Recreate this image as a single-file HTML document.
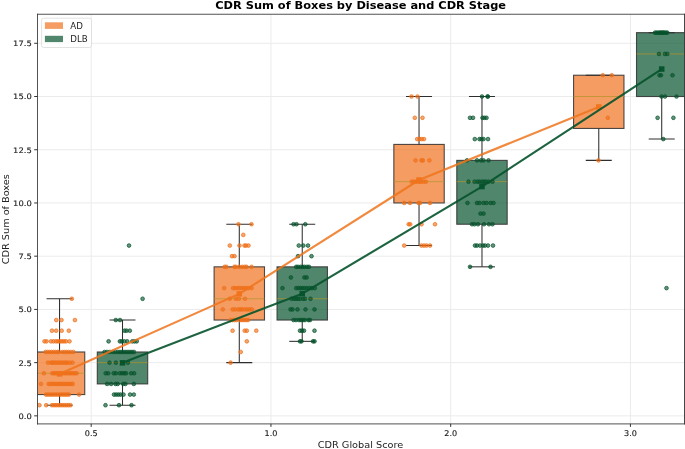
<!DOCTYPE html>
<html><head><meta charset="utf-8"><title>CDR Sum of Boxes by Disease and CDR Stage</title>
<style>html,body{margin:0;padding:0;background:#fff;width:685px;height:449px;overflow:hidden}svg{display:block}</style>
</head><body>
<svg width="685" height="449" viewBox="0 0 685 449" font-family="DejaVu Sans, Liberation Sans, sans-serif"><rect x="0" y="0" width="685" height="449" fill="#ffffff"/>
<defs><clipPath id="ax"><rect x="37.50" y="14.25" width="647.10" height="409.65"/></clipPath></defs>
<g stroke="#ebebeb" stroke-width="1.0" clip-path="url(#ax)"><line x1="37.5" x2="684.6" y1="415.85" y2="415.85"/><line x1="37.5" x2="684.6" y1="362.63" y2="362.63"/><line x1="37.5" x2="684.6" y1="309.41" y2="309.41"/><line x1="37.5" x2="684.6" y1="256.18" y2="256.18"/><line x1="37.5" x2="684.6" y1="202.96" y2="202.96"/><line x1="37.5" x2="684.6" y1="149.74" y2="149.74"/><line x1="37.5" x2="684.6" y1="96.51" y2="96.51"/><line x1="37.5" x2="684.6" y1="43.29" y2="43.29"/><line x1="91.20" x2="91.20" y1="14.25" y2="423.9"/><line x1="270.94" x2="270.94" y1="14.25" y2="423.9"/><line x1="450.68" x2="450.68" y1="14.25" y2="423.9"/><line x1="630.42" x2="630.42" y1="14.25" y2="423.9"/></g>
<g clip-path="url(#ax)"><rect x="34.35" y="351.98" width="50.4" height="42.58" fill="#f17220" fill-opacity="0.7" stroke="#2e2e2e" stroke-opacity="0.85" stroke-width="1.1"/><g stroke="#2e2e2e" stroke-width="1.05" opacity="1.0"><line x1="59.55" x2="59.55" y1="394.56" y2="405.21"/><line x1="59.55" x2="59.55" y1="351.98" y2="298.76"/><line x1="46.55" x2="72.55" y1="405.21" y2="405.21"/><line x1="46.55" x2="72.55" y1="298.76" y2="298.76"/></g><line x1="34.35" x2="84.75" y1="373.27" y2="373.27" stroke="#b4952c" stroke-opacity="0.72" stroke-width="1.0"/><rect x="97.30" y="351.98" width="50.4" height="31.93" fill="#05532c" fill-opacity="0.7" stroke="#2e2e2e" stroke-opacity="0.85" stroke-width="1.1"/><g stroke="#2e2e2e" stroke-width="1.05" opacity="1.0"><line x1="122.50" x2="122.50" y1="383.92" y2="405.21"/><line x1="122.50" x2="122.50" y1="351.98" y2="320.05"/><line x1="109.50" x2="135.50" y1="405.21" y2="405.21"/><line x1="109.50" x2="135.50" y1="320.05" y2="320.05"/></g><line x1="97.30" x2="147.70" y1="362.63" y2="362.63" stroke="#b4952c" stroke-opacity="0.72" stroke-width="1.0"/><rect x="214.09" y="266.83" width="50.4" height="53.22" fill="#f17220" fill-opacity="0.7" stroke="#2e2e2e" stroke-opacity="0.85" stroke-width="1.1"/><g stroke="#2e2e2e" stroke-width="1.05" opacity="1.0"><line x1="239.29" x2="239.29" y1="320.05" y2="362.63"/><line x1="239.29" x2="239.29" y1="266.83" y2="224.25"/><line x1="226.29" x2="252.29" y1="362.63" y2="362.63"/><line x1="226.29" x2="252.29" y1="224.25" y2="224.25"/></g><line x1="214.09" x2="264.49" y1="298.76" y2="298.76" stroke="#b4952c" stroke-opacity="0.72" stroke-width="1.0"/><rect x="277.04" y="266.83" width="50.4" height="53.22" fill="#05532c" fill-opacity="0.7" stroke="#2e2e2e" stroke-opacity="0.85" stroke-width="1.1"/><g stroke="#2e2e2e" stroke-width="1.05" opacity="1.0"><line x1="302.24" x2="302.24" y1="320.05" y2="341.34"/><line x1="302.24" x2="302.24" y1="266.83" y2="224.25"/><line x1="289.24" x2="315.24" y1="341.34" y2="341.34"/><line x1="289.24" x2="315.24" y1="224.25" y2="224.25"/></g><line x1="277.04" x2="327.44" y1="298.76" y2="298.76" stroke="#b4952c" stroke-opacity="0.72" stroke-width="1.0"/><rect x="393.83" y="144.42" width="50.4" height="58.54" fill="#f17220" fill-opacity="0.7" stroke="#2e2e2e" stroke-opacity="0.85" stroke-width="1.1"/><g stroke="#2e2e2e" stroke-width="1.05" opacity="1.0"><line x1="419.03" x2="419.03" y1="202.96" y2="245.54"/><line x1="419.03" x2="419.03" y1="144.42" y2="96.51"/><line x1="406.03" x2="432.03" y1="245.54" y2="245.54"/><line x1="406.03" x2="432.03" y1="96.51" y2="96.51"/></g><line x1="393.83" x2="444.23" y1="181.67" y2="181.67" stroke="#b4952c" stroke-opacity="0.72" stroke-width="1.0"/><rect x="456.78" y="160.38" width="50.4" height="63.87" fill="#05532c" fill-opacity="0.7" stroke="#2e2e2e" stroke-opacity="0.85" stroke-width="1.1"/><g stroke="#2e2e2e" stroke-width="1.05" opacity="1.0"><line x1="481.98" x2="481.98" y1="224.25" y2="266.83"/><line x1="481.98" x2="481.98" y1="160.38" y2="96.51"/><line x1="468.98" x2="494.98" y1="266.83" y2="266.83"/><line x1="468.98" x2="494.98" y1="96.51" y2="96.51"/></g><line x1="456.78" x2="507.18" y1="181.67" y2="181.67" stroke="#b4952c" stroke-opacity="0.72" stroke-width="1.0"/><rect x="573.57" y="75.23" width="50.4" height="53.22" fill="#f17220" fill-opacity="0.7" stroke="#2e2e2e" stroke-opacity="0.85" stroke-width="1.1"/><g stroke="#2e2e2e" stroke-width="1.05" opacity="1.0"><line x1="598.77" x2="598.77" y1="128.45" y2="160.38"/><line x1="598.77" x2="598.77" y1="75.23" y2="75.23"/><line x1="585.77" x2="611.77" y1="160.38" y2="160.38"/><line x1="585.77" x2="611.77" y1="75.23" y2="75.23"/></g><line x1="573.57" x2="623.97" y1="96.51" y2="96.51" stroke="#b4952c" stroke-opacity="0.72" stroke-width="1.0"/><rect x="636.52" y="32.65" width="50.4" height="63.87" fill="#05532c" fill-opacity="0.7" stroke="#2e2e2e" stroke-opacity="0.85" stroke-width="1.1"/><g stroke="#2e2e2e" stroke-width="1.05" opacity="1.0"><line x1="661.72" x2="661.72" y1="96.51" y2="139.09"/><line x1="661.72" x2="661.72" y1="32.65" y2="32.65"/><line x1="648.72" x2="674.72" y1="139.09" y2="139.09"/><line x1="648.72" x2="674.72" y1="32.65" y2="32.65"/></g><line x1="636.52" x2="686.92" y1="53.94" y2="53.94" stroke="#b4952c" stroke-opacity="0.72" stroke-width="1.0"/><g fill="#ef7019" fill-opacity="0.62" stroke="#ef7019" stroke-opacity="0.85" stroke-width="0.85"><circle cx="71.8" cy="298.76" r="1.85"/><circle cx="56.3" cy="320.05" r="1.85"/><circle cx="61.5" cy="320.05" r="1.85"/><circle cx="74.9" cy="320.05" r="1.85"/><circle cx="52.0" cy="330.69" r="1.85"/><circle cx="56.2" cy="330.69" r="1.85"/><circle cx="61.7" cy="330.69" r="1.85"/><circle cx="68.8" cy="330.69" r="1.85"/><circle cx="44.5" cy="341.34" r="1.85"/><circle cx="46.5" cy="341.34" r="1.85"/><circle cx="51.0" cy="341.34" r="1.85"/><circle cx="53.5" cy="341.34" r="1.85"/><circle cx="56.0" cy="341.34" r="1.85"/><circle cx="58.0" cy="341.34" r="1.85"/><circle cx="60.0" cy="341.34" r="1.85"/><circle cx="62.0" cy="341.34" r="1.85"/><circle cx="64.0" cy="341.34" r="1.85"/><circle cx="66.0" cy="341.34" r="1.85"/><circle cx="69.5" cy="341.34" r="1.85"/><circle cx="45.5" cy="351.98" r="1.85"/><circle cx="47.5" cy="351.98" r="1.85"/><circle cx="49.5" cy="351.98" r="1.85"/><circle cx="51.5" cy="351.98" r="1.85"/><circle cx="53.5" cy="351.98" r="1.85"/><circle cx="55.5" cy="351.98" r="1.85"/><circle cx="57.5" cy="351.98" r="1.85"/><circle cx="59.0" cy="351.98" r="1.85"/><circle cx="62.5" cy="351.98" r="1.85"/><circle cx="64.5" cy="351.98" r="1.85"/><circle cx="66.5" cy="351.98" r="1.85"/><circle cx="68.5" cy="351.98" r="1.85"/><circle cx="71.0" cy="351.98" r="1.85"/><circle cx="73.5" cy="351.98" r="1.85"/><circle cx="48.0" cy="362.63" r="1.85"/><circle cx="51.0" cy="362.63" r="1.85"/><circle cx="52.5" cy="362.63" r="1.85"/><circle cx="54.0" cy="362.63" r="1.85"/><circle cx="56.0" cy="362.63" r="1.85"/><circle cx="58.0" cy="362.63" r="1.85"/><circle cx="60.0" cy="362.63" r="1.85"/><circle cx="62.0" cy="362.63" r="1.85"/><circle cx="64.0" cy="362.63" r="1.85"/><circle cx="66.0" cy="362.63" r="1.85"/><circle cx="67.5" cy="362.63" r="1.85"/><circle cx="70.0" cy="362.63" r="1.85"/><circle cx="72.5" cy="362.63" r="1.85"/><circle cx="43.9" cy="373.27" r="1.85"/><circle cx="52.2" cy="373.27" r="1.85"/><circle cx="54.1" cy="373.27" r="1.85"/><circle cx="56.0" cy="373.27" r="1.85"/><circle cx="57.9" cy="373.27" r="1.85"/><circle cx="59.7" cy="373.27" r="1.85"/><circle cx="61.6" cy="373.27" r="1.85"/><circle cx="63.5" cy="373.27" r="1.85"/><circle cx="65.4" cy="373.27" r="1.85"/><circle cx="67.3" cy="373.27" r="1.85"/><circle cx="69.2" cy="373.27" r="1.85"/><circle cx="71.0" cy="373.27" r="1.85"/><circle cx="72.9" cy="373.27" r="1.85"/><circle cx="74.8" cy="373.27" r="1.85"/><circle cx="76.7" cy="373.27" r="1.85"/><circle cx="41.0" cy="383.92" r="1.85"/><circle cx="48.6" cy="383.92" r="1.85"/><circle cx="50.5" cy="383.92" r="1.85"/><circle cx="52.3" cy="383.92" r="1.85"/><circle cx="54.2" cy="383.92" r="1.85"/><circle cx="56.0" cy="383.92" r="1.85"/><circle cx="57.9" cy="383.92" r="1.85"/><circle cx="59.7" cy="383.92" r="1.85"/><circle cx="61.6" cy="383.92" r="1.85"/><circle cx="63.4" cy="383.92" r="1.85"/><circle cx="65.3" cy="383.92" r="1.85"/><circle cx="67.1" cy="383.92" r="1.85"/><circle cx="69.0" cy="383.92" r="1.85"/><circle cx="70.8" cy="383.92" r="1.85"/><circle cx="72.7" cy="383.92" r="1.85"/><circle cx="46.0" cy="394.56" r="1.85"/><circle cx="47.9" cy="394.56" r="1.85"/><circle cx="49.8" cy="394.56" r="1.85"/><circle cx="51.7" cy="394.56" r="1.85"/><circle cx="53.6" cy="394.56" r="1.85"/><circle cx="55.5" cy="394.56" r="1.85"/><circle cx="57.5" cy="394.56" r="1.85"/><circle cx="59.4" cy="394.56" r="1.85"/><circle cx="61.3" cy="394.56" r="1.85"/><circle cx="63.2" cy="394.56" r="1.85"/><circle cx="65.1" cy="394.56" r="1.85"/><circle cx="67.0" cy="394.56" r="1.85"/><circle cx="68.9" cy="394.56" r="1.85"/><circle cx="79.1" cy="394.56" r="1.85"/><circle cx="39.4" cy="405.21" r="1.85"/><circle cx="46.2" cy="405.21" r="1.85"/><circle cx="52.0" cy="405.21" r="1.85"/><circle cx="54.1" cy="405.21" r="1.85"/><circle cx="56.1" cy="405.21" r="1.85"/><circle cx="58.2" cy="405.21" r="1.85"/><circle cx="60.2" cy="405.21" r="1.85"/><circle cx="62.3" cy="405.21" r="1.85"/><circle cx="64.3" cy="405.21" r="1.85"/><circle cx="66.4" cy="405.21" r="1.85"/><circle cx="68.4" cy="405.21" r="1.85"/><circle cx="70.5" cy="405.21" r="1.85"/></g><g fill="#05532c" fill-opacity="0.62" stroke="#05532c" stroke-opacity="0.85" stroke-width="0.85"><circle cx="129.0" cy="245.54" r="1.85"/><circle cx="142.6" cy="298.76" r="1.85"/><circle cx="115.8" cy="320.05" r="1.85"/><circle cx="120.0" cy="320.05" r="1.85"/><circle cx="124.5" cy="330.69" r="1.85"/><circle cx="126.5" cy="330.69" r="1.85"/><circle cx="129.8" cy="330.69" r="1.85"/><circle cx="108.6" cy="341.34" r="1.85"/><circle cx="119.9" cy="341.34" r="1.85"/><circle cx="121.7" cy="341.34" r="1.85"/><circle cx="124.3" cy="341.34" r="1.85"/><circle cx="127.2" cy="341.34" r="1.85"/><circle cx="132.3" cy="341.34" r="1.85"/><circle cx="134.5" cy="341.34" r="1.85"/><circle cx="136.7" cy="341.34" r="1.85"/><circle cx="104.5" cy="351.98" r="1.85"/><circle cx="107.0" cy="351.98" r="1.85"/><circle cx="110.0" cy="351.98" r="1.85"/><circle cx="113.0" cy="351.98" r="1.85"/><circle cx="115.5" cy="351.98" r="1.85"/><circle cx="118.0" cy="351.98" r="1.85"/><circle cx="120.0" cy="351.98" r="1.85"/><circle cx="122.0" cy="351.98" r="1.85"/><circle cx="124.0" cy="351.98" r="1.85"/><circle cx="126.0" cy="351.98" r="1.85"/><circle cx="128.0" cy="351.98" r="1.85"/><circle cx="130.0" cy="351.98" r="1.85"/><circle cx="132.0" cy="351.98" r="1.85"/><circle cx="134.0" cy="351.98" r="1.85"/><circle cx="109.5" cy="362.63" r="1.85"/><circle cx="115.9" cy="362.63" r="1.85"/><circle cx="127.9" cy="362.63" r="1.85"/><circle cx="105.7" cy="373.27" r="1.85"/><circle cx="108.2" cy="373.27" r="1.85"/><circle cx="113.7" cy="373.27" r="1.85"/><circle cx="115.9" cy="373.27" r="1.85"/><circle cx="119.9" cy="373.27" r="1.85"/><circle cx="122.1" cy="373.27" r="1.85"/><circle cx="124.3" cy="373.27" r="1.85"/><circle cx="126.1" cy="373.27" r="1.85"/><circle cx="131.2" cy="373.27" r="1.85"/><circle cx="134.1" cy="373.27" r="1.85"/><circle cx="107.1" cy="383.92" r="1.85"/><circle cx="111.1" cy="383.92" r="1.85"/><circle cx="115.5" cy="383.92" r="1.85"/><circle cx="117.7" cy="383.92" r="1.85"/><circle cx="123.2" cy="383.92" r="1.85"/><circle cx="125.4" cy="383.92" r="1.85"/><circle cx="133.8" cy="383.92" r="1.85"/><circle cx="114.0" cy="394.56" r="1.85"/><circle cx="116.2" cy="394.56" r="1.85"/><circle cx="118.4" cy="394.56" r="1.85"/><circle cx="120.6" cy="394.56" r="1.85"/><circle cx="123.5" cy="394.56" r="1.85"/><circle cx="130.1" cy="394.56" r="1.85"/><circle cx="133.8" cy="394.56" r="1.85"/><circle cx="105.5" cy="405.21" r="1.85"/><circle cx="119.0" cy="405.21" r="1.85"/><circle cx="131.5" cy="405.21" r="1.85"/></g><g fill="#ef7019" fill-opacity="0.62" stroke="#ef7019" stroke-opacity="0.85" stroke-width="0.85"><circle cx="238.5" cy="224.25" r="1.85"/><circle cx="251.5" cy="224.25" r="1.85"/><circle cx="243.3" cy="234.89" r="1.85"/><circle cx="229.8" cy="245.54" r="1.85"/><circle cx="239.5" cy="245.54" r="1.85"/><circle cx="244.5" cy="245.54" r="1.85"/><circle cx="246.0" cy="245.54" r="1.85"/><circle cx="248.5" cy="245.54" r="1.85"/><circle cx="232.0" cy="256.18" r="1.85"/><circle cx="234.5" cy="256.18" r="1.85"/><circle cx="224.6" cy="266.83" r="1.85"/><circle cx="226.4" cy="266.83" r="1.85"/><circle cx="234.4" cy="266.83" r="1.85"/><circle cx="235.9" cy="266.83" r="1.85"/><circle cx="239.2" cy="266.83" r="1.85"/><circle cx="242.1" cy="266.83" r="1.85"/><circle cx="244.7" cy="266.83" r="1.85"/><circle cx="246.5" cy="266.83" r="1.85"/><circle cx="251.6" cy="266.83" r="1.85"/><circle cx="224.2" cy="288.12" r="1.85"/><circle cx="233.0" cy="288.12" r="1.85"/><circle cx="235.2" cy="288.12" r="1.85"/><circle cx="237.4" cy="288.12" r="1.85"/><circle cx="239.5" cy="288.12" r="1.85"/><circle cx="241.7" cy="288.12" r="1.85"/><circle cx="243.9" cy="288.12" r="1.85"/><circle cx="246.1" cy="288.12" r="1.85"/><circle cx="248.3" cy="288.12" r="1.85"/><circle cx="251.6" cy="288.12" r="1.85"/><circle cx="229.7" cy="298.76" r="1.85"/><circle cx="235.9" cy="298.76" r="1.85"/><circle cx="238.8" cy="298.76" r="1.85"/><circle cx="245.0" cy="298.76" r="1.85"/><circle cx="222.8" cy="309.41" r="1.85"/><circle cx="232.6" cy="309.41" r="1.85"/><circle cx="235.2" cy="309.41" r="1.85"/><circle cx="238.1" cy="309.41" r="1.85"/><circle cx="240.3" cy="309.41" r="1.85"/><circle cx="242.1" cy="309.41" r="1.85"/><circle cx="244.7" cy="309.41" r="1.85"/><circle cx="247.2" cy="309.41" r="1.85"/><circle cx="249.5" cy="309.41" r="1.85"/><circle cx="251.8" cy="309.41" r="1.85"/><circle cx="230.6" cy="320.05" r="1.85"/><circle cx="232.5" cy="320.05" r="1.85"/><circle cx="234.5" cy="320.05" r="1.85"/><circle cx="236.5" cy="320.05" r="1.85"/><circle cx="240.0" cy="320.05" r="1.85"/><circle cx="242.0" cy="320.05" r="1.85"/><circle cx="244.0" cy="320.05" r="1.85"/><circle cx="246.0" cy="320.05" r="1.85"/><circle cx="248.0" cy="320.05" r="1.85"/><circle cx="232.6" cy="330.69" r="1.85"/><circle cx="244.7" cy="330.69" r="1.85"/><circle cx="246.8" cy="330.69" r="1.85"/><circle cx="256.3" cy="330.69" r="1.85"/><circle cx="246.8" cy="341.34" r="1.85"/><circle cx="240.7" cy="351.98" r="1.85"/><circle cx="230.6" cy="362.63" r="1.85"/></g><g fill="#05532c" fill-opacity="0.62" stroke="#05532c" stroke-opacity="0.85" stroke-width="0.85"><circle cx="293.5" cy="224.25" r="1.85"/><circle cx="296.5" cy="224.25" r="1.85"/><circle cx="305.3" cy="224.25" r="1.85"/><circle cx="298.8" cy="245.54" r="1.85"/><circle cx="303.3" cy="245.54" r="1.85"/><circle cx="308.0" cy="245.54" r="1.85"/><circle cx="298.0" cy="256.18" r="1.85"/><circle cx="311.5" cy="256.18" r="1.85"/><circle cx="296.2" cy="266.83" r="1.85"/><circle cx="298.0" cy="266.83" r="1.85"/><circle cx="300.5" cy="266.83" r="1.85"/><circle cx="302.5" cy="266.83" r="1.85"/><circle cx="304.5" cy="266.83" r="1.85"/><circle cx="307.0" cy="266.83" r="1.85"/><circle cx="309.0" cy="266.83" r="1.85"/><circle cx="290.9" cy="277.47" r="1.85"/><circle cx="304.4" cy="277.47" r="1.85"/><circle cx="306.6" cy="277.47" r="1.85"/><circle cx="282.5" cy="288.12" r="1.85"/><circle cx="296.2" cy="288.12" r="1.85"/><circle cx="298.5" cy="288.12" r="1.85"/><circle cx="300.5" cy="288.12" r="1.85"/><circle cx="302.5" cy="288.12" r="1.85"/><circle cx="304.5" cy="288.12" r="1.85"/><circle cx="307.0" cy="288.12" r="1.85"/><circle cx="309.5" cy="288.12" r="1.85"/><circle cx="312.0" cy="288.12" r="1.85"/><circle cx="314.8" cy="288.12" r="1.85"/><circle cx="291.5" cy="298.76" r="1.85"/><circle cx="294.0" cy="298.76" r="1.85"/><circle cx="296.0" cy="298.76" r="1.85"/><circle cx="298.0" cy="298.76" r="1.85"/><circle cx="300.0" cy="298.76" r="1.85"/><circle cx="303.0" cy="298.76" r="1.85"/><circle cx="305.0" cy="298.76" r="1.85"/><circle cx="310.5" cy="298.76" r="1.85"/><circle cx="290.5" cy="309.41" r="1.85"/><circle cx="292.5" cy="309.41" r="1.85"/><circle cx="297.5" cy="309.41" r="1.85"/><circle cx="305.5" cy="309.41" r="1.85"/><circle cx="314.5" cy="309.41" r="1.85"/><circle cx="293.5" cy="320.05" r="1.85"/><circle cx="296.0" cy="320.05" r="1.85"/><circle cx="299.0" cy="320.05" r="1.85"/><circle cx="301.0" cy="320.05" r="1.85"/><circle cx="303.0" cy="320.05" r="1.85"/><circle cx="305.0" cy="320.05" r="1.85"/><circle cx="308.5" cy="320.05" r="1.85"/><circle cx="310.0" cy="320.05" r="1.85"/><circle cx="300.0" cy="330.69" r="1.85"/><circle cx="302.0" cy="330.69" r="1.85"/><circle cx="304.0" cy="330.69" r="1.85"/><circle cx="314.5" cy="330.69" r="1.85"/><circle cx="300.0" cy="341.34" r="1.85"/><circle cx="301.5" cy="341.34" r="1.85"/><circle cx="313.0" cy="341.34" r="1.85"/><circle cx="314.5" cy="341.34" r="1.85"/></g><g fill="#ef7019" fill-opacity="0.62" stroke="#ef7019" stroke-opacity="0.85" stroke-width="0.85"><circle cx="411.5" cy="96.51" r="1.85"/><circle cx="417.5" cy="96.51" r="1.85"/><circle cx="414.8" cy="117.80" r="1.85"/><circle cx="422.5" cy="117.80" r="1.85"/><circle cx="417.2" cy="139.09" r="1.85"/><circle cx="419.5" cy="139.09" r="1.85"/><circle cx="421.7" cy="139.09" r="1.85"/><circle cx="424.0" cy="139.09" r="1.85"/><circle cx="415.5" cy="160.38" r="1.85"/><circle cx="421.4" cy="160.38" r="1.85"/><circle cx="422.8" cy="160.38" r="1.85"/><circle cx="429.4" cy="160.38" r="1.85"/><circle cx="411.7" cy="181.67" r="1.85"/><circle cx="414.0" cy="181.67" r="1.85"/><circle cx="416.5" cy="181.67" r="1.85"/><circle cx="419.0" cy="181.67" r="1.85"/><circle cx="421.0" cy="181.67" r="1.85"/><circle cx="423.5" cy="181.67" r="1.85"/><circle cx="425.9" cy="181.67" r="1.85"/><circle cx="404.2" cy="202.96" r="1.85"/><circle cx="410.0" cy="202.96" r="1.85"/><circle cx="418.5" cy="202.96" r="1.85"/><circle cx="420.0" cy="202.96" r="1.85"/><circle cx="430.0" cy="202.96" r="1.85"/><circle cx="408.7" cy="224.25" r="1.85"/><circle cx="410.2" cy="224.25" r="1.85"/><circle cx="421.5" cy="224.25" r="1.85"/><circle cx="435.0" cy="224.25" r="1.85"/><circle cx="404.2" cy="245.54" r="1.85"/><circle cx="421.5" cy="245.54" r="1.85"/><circle cx="424.0" cy="245.54" r="1.85"/><circle cx="426.5" cy="245.54" r="1.85"/><circle cx="430.0" cy="245.54" r="1.85"/></g><g fill="#05532c" fill-opacity="0.62" stroke="#05532c" stroke-opacity="0.85" stroke-width="0.85"><circle cx="482.0" cy="96.51" r="1.85"/><circle cx="487.5" cy="96.51" r="1.85"/><circle cx="487.9" cy="96.51" r="1.85"/><circle cx="470.0" cy="117.80" r="1.85"/><circle cx="473.0" cy="117.80" r="1.85"/><circle cx="482.5" cy="117.80" r="1.85"/><circle cx="484.5" cy="117.80" r="1.85"/><circle cx="486.5" cy="117.80" r="1.85"/><circle cx="474.8" cy="139.09" r="1.85"/><circle cx="479.5" cy="139.09" r="1.85"/><circle cx="481.5" cy="139.09" r="1.85"/><circle cx="483.5" cy="139.09" r="1.85"/><circle cx="488.0" cy="139.09" r="1.85"/><circle cx="467.0" cy="160.38" r="1.85"/><circle cx="477.0" cy="160.38" r="1.85"/><circle cx="481.0" cy="160.38" r="1.85"/><circle cx="483.5" cy="160.38" r="1.85"/><circle cx="488.5" cy="160.38" r="1.85"/><circle cx="468.5" cy="181.67" r="1.85"/><circle cx="474.5" cy="181.67" r="1.85"/><circle cx="477.5" cy="181.67" r="1.85"/><circle cx="479.5" cy="181.67" r="1.85"/><circle cx="482.0" cy="181.67" r="1.85"/><circle cx="484.0" cy="181.67" r="1.85"/><circle cx="486.0" cy="181.67" r="1.85"/><circle cx="488.5" cy="181.67" r="1.85"/><circle cx="492.5" cy="181.67" r="1.85"/><circle cx="467.5" cy="202.96" r="1.85"/><circle cx="477.0" cy="202.96" r="1.85"/><circle cx="479.5" cy="202.96" r="1.85"/><circle cx="483.5" cy="202.96" r="1.85"/><circle cx="486.5" cy="202.96" r="1.85"/><circle cx="490.5" cy="202.96" r="1.85"/><circle cx="493.5" cy="202.96" r="1.85"/><circle cx="480.5" cy="213.60" r="1.85"/><circle cx="483.5" cy="213.60" r="1.85"/><circle cx="472.0" cy="224.25" r="1.85"/><circle cx="474.5" cy="224.25" r="1.85"/><circle cx="478.0" cy="224.25" r="1.85"/><circle cx="484.0" cy="224.25" r="1.85"/><circle cx="489.0" cy="224.25" r="1.85"/><circle cx="492.5" cy="224.25" r="1.85"/><circle cx="475.0" cy="245.54" r="1.85"/><circle cx="477.0" cy="245.54" r="1.85"/><circle cx="480.0" cy="245.54" r="1.85"/><circle cx="483.0" cy="245.54" r="1.85"/><circle cx="485.0" cy="245.54" r="1.85"/><circle cx="488.0" cy="245.54" r="1.85"/><circle cx="493.0" cy="245.54" r="1.85"/><circle cx="470.0" cy="266.83" r="1.85"/><circle cx="490.5" cy="266.83" r="1.85"/></g><g fill="#ef7019" fill-opacity="0.62" stroke="#ef7019" stroke-opacity="0.85" stroke-width="0.85"><circle cx="602.8" cy="75.23" r="1.85"/><circle cx="611.8" cy="75.23" r="1.85"/><circle cx="607.8" cy="117.80" r="1.85"/><circle cx="598.5" cy="160.38" r="1.85"/></g><g fill="#05532c" fill-opacity="0.62" stroke="#05532c" stroke-opacity="0.85" stroke-width="0.85"><circle cx="655.0" cy="32.65" r="1.85"/><circle cx="656.5" cy="32.65" r="1.85"/><circle cx="658.0" cy="32.65" r="1.85"/><circle cx="659.5" cy="32.65" r="1.85"/><circle cx="660.5" cy="32.65" r="1.85"/><circle cx="661.5" cy="32.65" r="1.85"/><circle cx="662.5" cy="32.65" r="1.85"/><circle cx="663.5" cy="32.65" r="1.85"/><circle cx="664.5" cy="32.65" r="1.85"/><circle cx="666.0" cy="32.65" r="1.85"/><circle cx="667.3" cy="32.65" r="1.85"/><circle cx="659.0" cy="53.94" r="1.85"/><circle cx="664.9" cy="53.94" r="1.85"/><circle cx="667.3" cy="53.94" r="1.85"/><circle cx="659.5" cy="75.23" r="1.85"/><circle cx="661.0" cy="75.23" r="1.85"/><circle cx="672.5" cy="75.23" r="1.85"/><circle cx="661.5" cy="96.51" r="1.85"/><circle cx="665.0" cy="96.51" r="1.85"/><circle cx="676.5" cy="96.51" r="1.85"/><circle cx="657.6" cy="117.80" r="1.85"/><circle cx="673.4" cy="117.80" r="1.85"/><circle cx="663.3" cy="139.09" r="1.85"/><circle cx="666.5" cy="288.12" r="1.85"/></g><polyline points="59.55,373.91 239.29,293.86 419.03,179.97 598.77,106.95" fill="none" stroke="#ef741c" stroke-opacity="0.85" stroke-width="2.15" stroke-linejoin="round"/><rect x="56.80" y="371.16" width="5.5" height="5.5" fill="#ef741c" fill-opacity="0.97"/><rect x="236.54" y="291.11" width="5.5" height="5.5" fill="#ef741c" fill-opacity="0.97"/><rect x="416.28" y="177.22" width="5.5" height="5.5" fill="#ef741c" fill-opacity="0.97"/><rect x="596.02" y="104.20" width="5.5" height="5.5" fill="#ef741c" fill-opacity="0.97"/><polyline points="122.50,362.84 302.24,293.65 481.98,186.57 661.72,69.05" fill="none" stroke="#05532c" stroke-opacity="0.9" stroke-width="2.15" stroke-linejoin="round"/><rect x="119.75" y="360.09" width="5.5" height="5.5" fill="#05532c" fill-opacity="0.97"/><rect x="299.49" y="290.90" width="5.5" height="5.5" fill="#05532c" fill-opacity="0.97"/><rect x="479.23" y="183.82" width="5.5" height="5.5" fill="#05532c" fill-opacity="0.97"/><rect x="658.97" y="66.30" width="5.5" height="5.5" fill="#05532c" fill-opacity="0.97"/></g>
<g stroke="#333333" stroke-linecap="square"><line x1="37.5" x2="37.5" y1="14.25" y2="423.9" stroke-width="0.85"/><line x1="684.6" x2="684.6" y1="14.25" y2="423.9" stroke-width="1.0"/><line x1="37.5" x2="684.6" y1="14.25" y2="14.25" stroke-width="0.85"/><line x1="37.5" x2="684.6" y1="423.9" y2="423.9" stroke-width="0.85"/></g>
<g stroke="#333333" stroke-width="1.0"><line x1="34.2" x2="37.5" y1="415.85" y2="415.85"/><line x1="34.2" x2="37.5" y1="362.63" y2="362.63"/><line x1="34.2" x2="37.5" y1="309.41" y2="309.41"/><line x1="34.2" x2="37.5" y1="256.18" y2="256.18"/><line x1="34.2" x2="37.5" y1="202.96" y2="202.96"/><line x1="34.2" x2="37.5" y1="149.74" y2="149.74"/><line x1="34.2" x2="37.5" y1="96.51" y2="96.51"/><line x1="34.2" x2="37.5" y1="43.29" y2="43.29"/><line x1="91.20" x2="91.20" y1="423.9" y2="426.9"/><line x1="270.94" x2="270.94" y1="423.9" y2="426.9"/><line x1="450.68" x2="450.68" y1="423.9" y2="426.9"/><line x1="630.42" x2="630.42" y1="423.9" y2="426.9"/></g>
<g font-size="8.4" fill="#1a1a1a" stroke="#1a1a1a" stroke-width="0.14"><text transform="translate(31.8,418.75) scale(1,0.9)" text-anchor="end">0.0</text><text transform="translate(31.8,365.53) scale(1,0.9)" text-anchor="end">2.5</text><text transform="translate(31.8,312.31) scale(1,0.9)" text-anchor="end">5.0</text><text transform="translate(31.8,259.08) scale(1,0.9)" text-anchor="end">7.5</text><text transform="translate(31.8,205.86) scale(1,0.9)" text-anchor="end">10.0</text><text transform="translate(31.8,152.64) scale(1,0.9)" text-anchor="end">12.5</text><text transform="translate(31.8,99.41) scale(1,0.9)" text-anchor="end">15.0</text><text transform="translate(31.8,46.19) scale(1,0.9)" text-anchor="end">17.5</text><text transform="translate(91.20,435.9) scale(1,0.97)" text-anchor="middle" font-size="8.1">0.5</text><text transform="translate(270.94,435.9) scale(1,0.97)" text-anchor="middle" font-size="8.1">1.0</text><text transform="translate(450.68,435.9) scale(1,0.97)" text-anchor="middle" font-size="8.1">2.0</text><text transform="translate(630.42,435.9) scale(1,0.97)" text-anchor="middle" font-size="8.1">3.0</text></g>
<text transform="translate(360.5,448.1) scale(1,0.9)" text-anchor="middle" font-size="9.75" fill="#222222">CDR Global Score</text>
<text transform="translate(8.5,219.2) rotate(-90) scale(1,0.9)" text-anchor="middle" font-size="9.7" fill="#222222">CDR Sum of Boxes</text>
<text transform="translate(360.6,9.3) scale(1,0.9)" text-anchor="middle" font-size="11.4" font-weight="bold" fill="#000000">CDR Sum of Boxes by Disease and CDR Stage</text>
<rect x="41.6" y="18.2" width="49.9" height="29.3" rx="2" ry="2" fill="#ffffff" fill-opacity="0.8" stroke="#dadada" stroke-width="0.8"/><g opacity="0.7"><rect x="44.9" y="22.3" width="18.1" height="6.6" fill="#f17220"/></g><g opacity="0.7"><rect x="44.9" y="35.8" width="18.1" height="6.3" fill="#05532c"/></g><text transform="translate(70.3,28.8) scale(1,0.9)" font-size="8.7" fill="#222222">AD</text><text transform="translate(70.3,42.1) scale(1,0.9)" font-size="8.7" fill="#222222">DLB</text></svg>
</body></html>
